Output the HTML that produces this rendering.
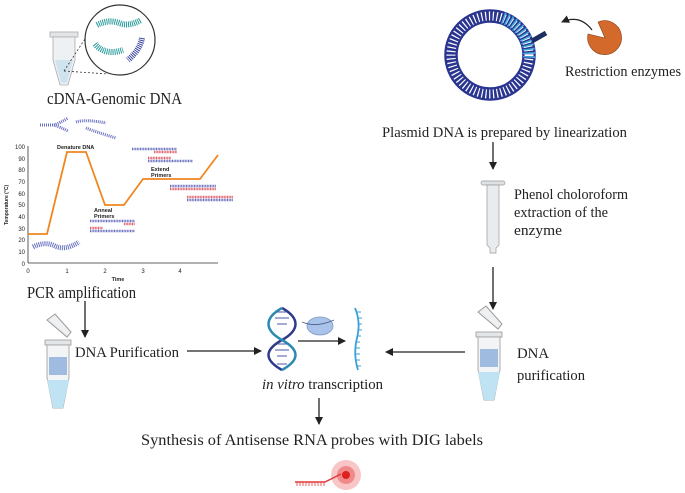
<!DOCTYPE html>
<html><head><meta charset="utf-8"><style>
html,body{margin:0;padding:0;background:#fff;}
svg{display:block;}
text{font-family:"Liberation Serif",serif;fill:#222;}
.s{font-family:"Liberation Sans",sans-serif;}
</style></head><body>
<svg width="685" height="493" viewBox="0 0 685 493" xmlns="http://www.w3.org/2000/svg">
<defs>
<marker id="ah" markerWidth="8" markerHeight="8" refX="7" refY="4" orient="auto" markerUnits="userSpaceOnUse">
<path d="M0,0 L8,4 L0,8 z" fill="#222"/></marker>
<g id="tube">
 <path d="M0,-20 l8,-6 l16,18 l-4,5 z" fill="#eef0f2" stroke="#999" stroke-width="1"/>
 <rect x="-2" y="0" width="26" height="5" fill="#e3e6e9" stroke="#999" stroke-width="0.8"/>
 <path d="M0,5 h22 v33 l-6,30 h-10 l-6,-30 z" fill="#f2f4f6" stroke="#999" stroke-width="0.8"/>
 <rect x="2" y="17" width="18" height="18" fill="#9fbbe0"/>
 <path d="M0,40 h22 l-6,28 h-10 z" fill="#bfe3f3"/>
</g>
</defs>

<!-- top-left tube and zoom circle -->
<g>
 <rect x="50" y="32" width="28" height="5" fill="#e3e6e9" stroke="#aaa" stroke-width="0.8"/>
 <path d="M53,37 h22 v23 l-7,25 h-8 l-7,-25 z" fill="#eef1f4" stroke="#aaa" stroke-width="0.8"/>
 <path d="M55,60 h18 l-6,23 h-6 z" fill="#cfe4ef"/>
 <line x1="64" y1="71" x2="100" y2="16" stroke="#333" stroke-dasharray="2,2" stroke-width="0.8"/>
 <line x1="64" y1="71" x2="108" y2="74" stroke="#333" stroke-dasharray="2,2" stroke-width="0.8"/>
 <circle cx="120" cy="40" r="35" fill="#fff" stroke="#333" stroke-width="1.2"/>
 <path d="M97,25 q12,-6 22,-2 t22,-3" stroke="#2a9a9a" stroke-width="6" fill="none" stroke-dasharray="1,1"/>
 <path d="M95,44 q10,12 28,6" stroke="#2a9a9a" stroke-width="6" fill="none" stroke-dasharray="1,1"/>
 <path d="M142,38 q-2,12 -14,22" stroke="#3a44a0" stroke-width="6" fill="none" stroke-dasharray="1,1"/>
</g>
<text x="47" y="104" font-size="16.5" textLength="135" lengthAdjust="spacingAndGlyphs">cDNA-Genomic DNA</text>

<!-- PCR chart -->
<g class="s" font-size="6">
 <path d="M40,125 h14 M54,125 q6,-2 14,-7 M54,125 q6,2 14,6 M76,122 q10,-3 30,1 M86,128 q10,4 30,10" stroke="#6a71c0" stroke-width="3" fill="none" stroke-dasharray="1,1"/>
 <line x1="28" y1="146" x2="28" y2="263" stroke="#333" stroke-width="0.8"/>
 <line x1="28" y1="263" x2="218" y2="263" stroke="#333" stroke-width="0.8"/>
 <g fill="#333">
 <text class="s" x="25" y="149" font-size="6" text-anchor="end">100</text>
 <text class="s" x="25" y="161" font-size="6" text-anchor="end">90</text>
 <text class="s" x="25" y="172" font-size="6" text-anchor="end">80</text>
 <text class="s" x="25" y="184" font-size="6" text-anchor="end">70</text>
 <text class="s" x="25" y="196" font-size="6" text-anchor="end">60</text>
 <text class="s" x="25" y="207" font-size="6" text-anchor="end">50</text>
 <text class="s" x="25" y="219" font-size="6" text-anchor="end">40</text>
 <text class="s" x="25" y="231" font-size="6" text-anchor="end">30</text>
 <text class="s" x="25" y="242" font-size="6" text-anchor="end">20</text>
 <text class="s" x="25" y="254" font-size="6" text-anchor="end">10</text>
 <text class="s" x="25" y="266" font-size="6" text-anchor="end">0</text>
 <text class="s" x="28" y="273" font-size="6" text-anchor="middle">0</text>
 <text class="s" x="67" y="273" font-size="6" text-anchor="middle">1</text>
 <text class="s" x="105" y="273" font-size="6" text-anchor="middle">2</text>
 <text class="s" x="143" y="273" font-size="6" text-anchor="middle">3</text>
 <text class="s" x="180" y="273" font-size="6" text-anchor="middle">4</text>
 <text class="s" x="118" y="281" font-size="5.5" font-weight="bold" text-anchor="middle">Time</text>
 <text class="s" x="8" y="205" font-size="5" font-weight="bold" transform="rotate(-90 8 205)" text-anchor="middle">Temperature (°C)</text>
 <text class="s" x="57" y="149" font-size="5.5" font-weight="bold">Denature DNA</text>
 <text class="s" x="94" y="212" font-size="5.5" font-weight="bold">Anneal</text>
 <text class="s" x="94" y="218" font-size="5.5" font-weight="bold">Primers</text>
 <text class="s" x="151" y="171" font-size="5.5" font-weight="bold">Extend</text>
 <text class="s" x="151" y="177" font-size="5.5" font-weight="bold">Primers</text>
 </g>
 <polyline points="28,234 47,234 67,152 86,152 105,205 124,205 143,179 200,179 218,155" fill="none" stroke="#f0861e" stroke-width="1.8"/>
 <path d="M33,247 q12,-6 22,-1 t24,-4" stroke="#6a71c0" stroke-width="5" fill="none" stroke-dasharray="1,1"/>
 <g stroke-width="2.5" stroke-dasharray="1,0.6">
 <line x1="90" y1="221" x2="135" y2="221" stroke="#6a71c0"/><line x1="124" y1="224" x2="135" y2="224" stroke="#e0606a"/>
 <line x1="90" y1="228" x2="103" y2="228" stroke="#e0606a"/><line x1="90" y1="231" x2="135" y2="231" stroke="#6a71c0"/>
 <line x1="132" y1="149" x2="177" y2="149" stroke="#6a71c0"/><line x1="154" y1="152" x2="177" y2="152" stroke="#e0606a"/>
 <line x1="148" y1="158" x2="171" y2="158" stroke="#e0606a"/><line x1="148" y1="161" x2="193" y2="161" stroke="#6a71c0"/>
 <line x1="170" y1="186" x2="216" y2="186" stroke="#6a71c0"/><line x1="170" y1="189" x2="216" y2="189" stroke="#e0606a"/>
 <line x1="187" y1="197" x2="233" y2="197" stroke="#e0606a"/><line x1="187" y1="200" x2="233" y2="200" stroke="#6a71c0"/>
 </g>
</g>
<text x="27" y="298" font-size="16.5" textLength="109" lengthAdjust="spacingAndGlyphs">PCR amplification</text>

<!-- left tube & arrows -->
<line x1="85" y1="301" x2="85" y2="337" stroke="#222" stroke-width="1.3" marker-end="url(#ah)"/>
<use href="#tube" x="47" y="340"/>
<text x="75" y="357" font-size="15" textLength="104" lengthAdjust="spacingAndGlyphs">DNA Purification</text>
<line x1="187" y1="351" x2="261" y2="351" stroke="#222" stroke-width="1.3" marker-end="url(#ah)"/>

<!-- center -->
<g>
 <path d="M276,308 C294,318 294,330 276,340 C258,350 258,360 276,370" stroke="#2e3a8a" stroke-width="2.5" fill="none" transform="translate(6,0)"/>
 <path d="M288,308 C270,318 270,330 288,340 C306,350 306,360 288,370" stroke="#2a8ab0" stroke-width="2.5" fill="none" transform="translate(-6,0)"/>
 <path d="M277,312 h10 M275,318 h14 M277,324 h10 M277,344 h10 M275,350 h14 M277,356 h10 M277,364 h10" stroke="#4a5aa8" stroke-width="1"/>
 <ellipse cx="320" cy="326" rx="13" ry="9" fill="#a9c4e8" stroke="#7a9ac8" stroke-width="0.8"/>
 <path d="M302,322 q14,6 32,-2" stroke="#4a5a90" stroke-width="0.8" fill="none"/>
 <line x1="298" y1="341" x2="345" y2="341" stroke="#222" stroke-width="1.2" marker-end="url(#ah)"/>
 <path d="M355,308 q6,14 2,30 q-4,16 1,32" stroke="#3aa0d8" stroke-width="1.8" fill="none"/>
 <path d="M357,312 h4 M358,318 h4 M358,324 h4 M358,330 h4 M357,336 h4 M356,342 h4 M356,348 h4 M356,354 h4 M356,360 h4 M357,366 h4" stroke="#3aa0d8" stroke-width="1"/>
</g>
<text x="262" y="389" font-size="15" textLength="121" lengthAdjust="spacingAndGlyphs"><tspan font-style="italic">in vitro</tspan> transcription</text>
<line x1="319" y1="398" x2="319" y2="424" stroke="#222" stroke-width="1.3" marker-end="url(#ah)"/>
<text x="141" y="445" font-size="16" textLength="342" lengthAdjust="spacingAndGlyphs">Synthesis of Antisense RNA probes with DIG labels</text>
<circle cx="346" cy="475" r="15" fill="#f8c6c6"/>
<circle cx="346" cy="475" r="9" fill="#f08a8a"/>
<circle cx="346" cy="475" r="4" fill="#e02020"/>
<path d="M295,482 h30 l16,-8" stroke="#e23a3a" stroke-width="1.5" fill="none"/>
<path d="M297,482v4M300,482v4M303,482v4M306,482v4M309,482v4M312,482v4M315,482v4M318,482v4M321,482v4M324,482v4" stroke="#e23a3a" stroke-width="0.8"/>

<!-- right side -->
<circle cx="490" cy="55" r="39" fill="none" stroke="#2a3590" stroke-width="12"/>
<circle cx="490" cy="55" r="39" fill="none" stroke="#fff" stroke-width="9" stroke-dasharray="1.2,2.6"/>
<circle cx="490" cy="55" r="45" fill="none" stroke="#2a3590" stroke-width="1.5"/>
<circle cx="490" cy="55" r="33" fill="none" stroke="#2a3590" stroke-width="1.5"/>
<path d="M503,18 A39,39 0 0 1 529,58" fill="none" stroke="#3fa8dc" stroke-width="12" stroke-dasharray="1.5,2.3" />
<line x1="532" y1="41" x2="546" y2="33" stroke="#1d2e60" stroke-width="5"/>
<path d="M605,38 m-17,-4 A17,17 0 1 0 598,22 L605,38 z" fill="#d4692c" stroke="#8a3d14" stroke-width="0.6"/>
<path d="M592,30 q-12,-16 -30,-8" stroke="#222" stroke-width="1.2" fill="none" marker-end="url(#ah)"/>
<text x="565" y="76" font-size="15" textLength="116" lengthAdjust="spacingAndGlyphs">Restriction enzymes</text>
<text x="382" y="137" font-size="15" textLength="245" lengthAdjust="spacingAndGlyphs">Plasmid DNA is prepared by linearization</text>
<line x1="493" y1="142" x2="493" y2="169" stroke="#222" stroke-width="1.3" marker-end="url(#ah)"/>
<rect x="481" y="181" width="24" height="4" rx="2" fill="#dfe2e5" stroke="#999" stroke-width="0.7"/>
<path d="M487,185 h12 v60 l-3,3 v5 h-6 v-5 l-3,-3 z" fill="#e9ecef" stroke="#999" stroke-width="0.7"/>
<text x="514" y="199" font-size="15" textLength="114" lengthAdjust="spacingAndGlyphs">Phenol choloroform</text>
<text x="514" y="217" font-size="15" textLength="94" lengthAdjust="spacingAndGlyphs">extraction of the</text>
<text x="514" y="235" font-size="15" textLength="48" lengthAdjust="spacingAndGlyphs">enzyme</text>
<line x1="493" y1="267" x2="493" y2="309" stroke="#222" stroke-width="1.3" marker-end="url(#ah)"/>
<use href="#tube" x="478" y="332"/>
<line x1="465" y1="352" x2="386" y2="352" stroke="#222" stroke-width="1.3" marker-end="url(#ah)"/>
<text x="517" y="358" font-size="15" textLength="32" lengthAdjust="spacingAndGlyphs">DNA</text>
<text x="517" y="380" font-size="15" textLength="68" lengthAdjust="spacingAndGlyphs">purification</text>
</svg>
</body></html>
